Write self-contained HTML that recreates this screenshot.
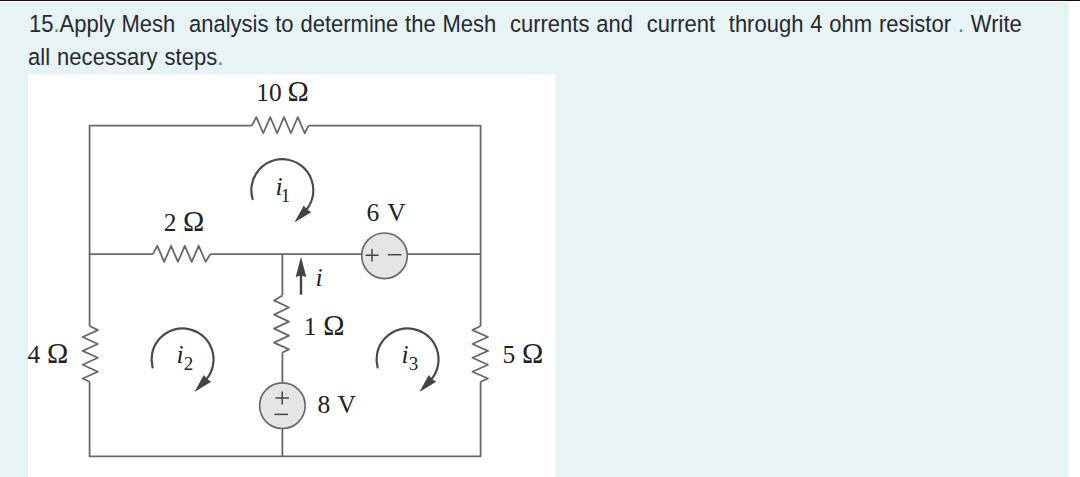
<!DOCTYPE html>
<html><head><meta charset="utf-8">
<style>
html,body{margin:0;padding:0;background:#fff;}
body{width:1080px;height:477px;position:relative;overflow:hidden;font-family:"Liberation Sans",sans-serif;}
#topbar{position:absolute;left:0;top:0;width:1080px;height:1px;background:#111;}
#panel{position:absolute;left:0;top:2px;width:1069px;height:475px;background:#e7f3f5;}
.ql{position:absolute;left:28.8px;margin:0;font-size:22px;line-height:30px;height:30px;color:#262a2e;white-space:pre;word-spacing:0.72px;transform:scaleY(1.08) rotate(0.005deg);transform-origin:0 22.6px;}
#l1{top:9.9px;}
#l2{top:43.3px;left:28.3px;word-spacing:0.9px;letter-spacing:0.02px;}
.pd{color:#6f7a80;}
svg{position:absolute;left:0;top:0;}
svg text{font-family:"Liberation Serif",serif;fill:#222;}
</style></head><body>
<div id="topbar"></div>
<div id="panel"></div>
<div class="ql" id="l1">15<span class="pd">.</span>Apply Mesh  analysis to determine the Mesh  currents and  current  through 4 ohm resistor <span class="pd">.</span> Write</div>
<div class="ql" id="l2">all necessary steps<span class="pd">.</span></div>
<svg width="1080" height="477" viewBox="0 0 1080 477">
<rect x="27.9" y="74.4" width="527.3" height="403" fill="#fff"/>
<g fill="none" stroke="#686868" stroke-width="1.8" stroke-linejoin="round">
<!-- outer wires -->
<path d="M89.6 326V125.55H251.9"/>
<path d="M308.5 125.55H480.6V326"/>
<path d="M480.6 381.8V456.3H89.6V381.8"/>
<!-- mid horizontal -->
<path d="M89.6 254.2H152.9"/>
<path d="M210.2 254.2H361.8"/>
<path d="M407.2 254.2H480.6"/>
<!-- mid vertical -->
<path d="M282.4 254.2V295.4"/>
<path d="M282.4 352.5V383"/>
<path d="M282.4 428.4V456.3"/>
<!-- resistors -->
<path id="r10" d="M251.9 125.55L256.3 117.15L263.3 133.25L270.2 117.15L277.1 133.25L284.0 117.15L290.9 133.25L297.8 117.15L304.7 133.25L308.5 125.55"/>
<path id="r2" d="M152.9 254.20L157.3 245.80L164.2 261.90L171.1 245.80L177.9 261.90L184.8 245.80L191.7 261.90L198.7 245.80L205.6 261.90L210.2 254.20"/>
<path id="r1" d="M282.4 295.4L274.0 300.4L289.0 307.5L274.0 314.6L289.0 321.6L274.0 328.6L289.0 335.6L274.0 342.6L289.0 349.4L282.4 352.5"/>
<path id="r5" d="M480.6 326.0L472.4 330.1L488.0 337.0L472.4 344.0L488.0 350.9L472.4 357.8L488.0 364.8L472.4 371.7L488.0 378.5L480.6 381.8"/>
<path id="r4" d="M89.6 326.0L97.9 330.1L82.6 337.0L97.9 344.0L82.6 350.9L97.9 357.8L82.6 364.8L97.9 371.7L82.6 378.5L89.6 381.8"/>
</g>
<!-- sources -->
<g stroke="#666" stroke-width="1.6" fill="#e5e5e5">
<circle cx="384.5" cy="255.8" r="22.8"/>
<circle cx="282.4" cy="405.7" r="22.8"/>
</g>
<g stroke="#444" stroke-width="1.5" fill="none">
<path d="M365.6 255.3H378.6M372 249V261.6"/>
<path d="M387.8 254.7H401.4"/>
<path d="M275.5 398H289M282.2 391.5V404.5"/>
<path d="M274.5 414.4H288"/>
</g>
<!-- mesh arcs -->
<g fill="none" stroke="#4a4a4a" stroke-width="2.2" stroke-linecap="round">
<path id="a1" d="M252.6 199A31 31 0 1 1 307 209"/>
<path id="a2" d="M152.6 367.5A31 31 0 1 1 207 378.5"/>
<path id="a3" d="M377.6 367.5A31 31 0 1 1 432 378.5"/>
</g>
<g fill="#444" stroke="none">
<path d="M294.4 222.6L303.8 205.5L307 209.6L311.2 212.2Z"/>
<path d="M194.4 392.1L203.8 375L207 379.1L211.2 381.7Z"/>
<path d="M419.4 392.1L428.8 375L432 379.1L436.2 381.7Z"/>
<!-- i arrow -->
<path d="M301 256.7L306.3 277L301 275.6L295.7 277Z"/>
<rect x="299.8" y="275" width="2.4" height="19.7"/>
</g>
<!-- labels -->
<g font-size="25.5">
<text x="256.3" y="101.1">10 <tspan x="287.6" font-size="28.6">Ω</tspan></text>
<text x="163.7" y="230.8">2 <tspan x="183.1" font-size="28.6">Ω</tspan></text>
<text x="366.5" y="220.8">6 <tspan x="387.2">V</tspan></text>
<text x="303.8" y="335.4">1 <tspan x="323.3" font-size="28.6">Ω</tspan></text>
<text x="317.5" y="412.5">8 <tspan x="337.5">V</tspan></text>
<text x="502.5" y="363.4">5 <tspan x="522.1" font-size="28.6">Ω</tspan></text>
<text x="27.5" y="363.4">4 <tspan x="47.1" font-size="28.6">Ω</tspan></text>
<text x="315.5" y="286" font-style="italic">i</text>
<text x="275.6" y="195" font-style="italic">i</text>
<text x="280.8" y="202" font-size="19">1</text>
<text x="176.4" y="363.3" font-style="italic">i</text>
<text x="183.7" y="369.9" font-size="19">2</text>
<text x="401.4" y="363.3" font-style="italic">i</text>
<text x="408.7" y="369.9" font-size="19">3</text>
</g>
</svg>
</body></html>
